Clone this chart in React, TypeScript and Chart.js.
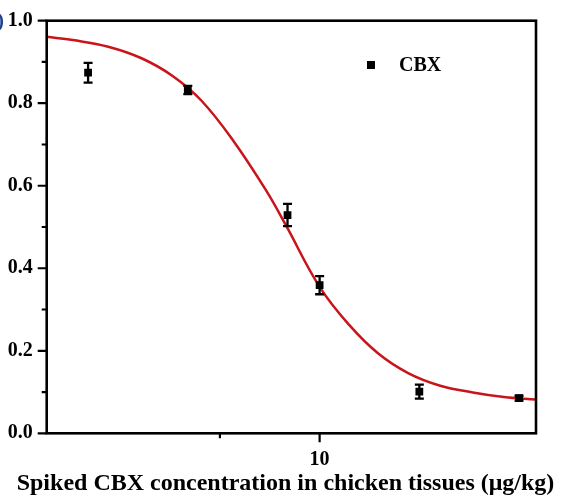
import React, { useEffect, useRef } from "react";
import { Chart, registerables } from "chart.js";

Chart.register(...registerables);

// ---- data ----
const concX = [2, 4, 8, 10, 20, 40];
const cbxY = [0.874, 0.832, 0.529, 0.359, 0.101, 0.085];
const cbxErr = [0.024, 0.01, 0.027, 0.022, 0.017, 0.006];

const fitX = [1.5, 1.8, 2.3, 2.9, 3.6, 4.4, 5.5, 6.9, 7.9, 10, 12.3, 15, 18.5, 23, 29, 36, 45];
const fitY = [0.961, 0.953, 0.937, 0.909, 0.866, 0.806, 0.708, 0.588, 0.505, 0.355, 0.262, 0.194, 0.146, 0.116, 0.099, 0.088, 0.082];

const yMajor = [0, 0.2, 0.4, 0.6, 0.8, 1.0];
const yMinor = [0.1, 0.3, 0.5, 0.7, 0.9];
const xMajor = [10];
const xMinor = [5];
const xRange = [1.5, 45];
const yRange = [0, 1.0];

const seriesName = "CBX";
const xTitle = "Spiked CBX concentration in chicken tissues (\u03bcg/kg)";
const panelTag = "(b)";

const FONT = "'Liberation Serif', 'Times New Roman', serif";

const decorPlugin = {
  id: "decor",
  afterDatasetsDraw(chart: any) {
    const { ctx, scales } = chart;
    const xs = scales.x;
    const ys = scales.y;
    ctx.save();
    // error bars
    ctx.strokeStyle = "#000";
    ctx.lineWidth = 2.3;
    concX.forEach((xv, i) => {
      const px = xs.getPixelForValue(xv);
      const top = ys.getPixelForValue(cbxY[i] + cbxErr[i]);
      const bot = ys.getPixelForValue(cbxY[i] - cbxErr[i]);
      ctx.beginPath();
      ctx.moveTo(px, top);
      ctx.lineTo(px, bot);
      ctx.moveTo(px - 4.5, top);
      ctx.lineTo(px + 4.5, top);
      ctx.moveTo(px - 4.5, bot);
      ctx.lineTo(px + 4.5, bot);
      ctx.stroke();
    });
    ctx.restore();
  },
  afterDraw(chart: any) {
    const { ctx, chartArea, scales } = chart;
    const xs = scales.x;
    const ys = scales.y;
    const { left, right, top, bottom } = chartArea;
    ctx.save();
    // frame
    ctx.strokeStyle = "#000";
    ctx.lineWidth = 2.6;
    ctx.strokeRect(left, top, right - left, bottom - top);
    // ticks
    ctx.lineWidth = 2.2;
    ctx.beginPath();
    yMajor.forEach((v) => {
      const py = ys.getPixelForValue(v);
      ctx.moveTo(left - 9, py);
      ctx.lineTo(left, py);
    });
    yMinor.forEach((v) => {
      const py = ys.getPixelForValue(v);
      ctx.moveTo(left - 5, py);
      ctx.lineTo(left, py);
    });
    xMajor.forEach((v) => {
      const px = xs.getPixelForValue(v);
      ctx.moveTo(px, bottom);
      ctx.lineTo(px, bottom + 9);
    });
    xMinor.forEach((v) => {
      const px = xs.getPixelForValue(v);
      ctx.moveTo(px, bottom);
      ctx.lineTo(px, bottom + 5);
    });
    ctx.stroke();

    // legend
    ctx.fillStyle = "#000";
    ctx.fillRect(367, 61, 8, 8);
    ctx.font = `bold 20px ${FONT}`;
    ctx.textBaseline = "middle";
    ctx.textAlign = "left";
    ctx.fillText(seriesName, 399, 66);

    // x title
    ctx.font = `bold 24px ${FONT}`;
    ctx.textAlign = "center";
    ctx.textBaseline = "alphabetic";
    ctx.fillText(xTitle, 285.5, 490);

    // cropped panel tag
    ctx.fillStyle = "#1f3f8f";
    ctx.font = `bold 20px ${FONT}`;
    ctx.textAlign = "right";
    ctx.textBaseline = "middle";
    ctx.fillText(panelTag, 4, 22);
    ctx.restore();
  },
};

export default function App() {
  const ref = useRef<HTMLCanvasElement | null>(null);
  useEffect(() => {
    if (!ref.current) return;
    const chart = new Chart(ref.current, {
      type: "scatter",
      data: {
        datasets: [
          {
            type: "line",
            label: "fit",
            data: fitX.map((x, i) => ({ x, y: fitY[i] })),
            borderColor: "#c8141a",
            borderWidth: 2.5,
            pointRadius: 0,
            fill: false,
            tension: 0.4,
            order: 2,
          } as any,
          {
            label: seriesName,
            data: concX.map((x, i) => ({ x, y: cbxY[i] })),
            backgroundColor: "#000",
            borderColor: "#000",
            pointStyle: "rect",
            pointRadius: 5.5,
            borderWidth: 0,
            order: 1,
          },
        ],
      },
      options: {
        responsive: false,
        animation: false,
        layout: { padding: { top: 20.7, right: 32, left: 0, bottom: 0 } },
        plugins: { legend: { display: false }, tooltip: { enabled: false } },
        scales: {
          x: {
            type: "logarithmic",
            min: xRange[0],
            max: xRange[1],
            grid: { display: false },
            border: { display: false },
            afterBuildTicks: (s: any) => {
              s.ticks = xMajor.map((v) => ({ value: v }));
            },
            afterFit: (s: any) => {
              s.height = 502 - 433.3;
            },
            ticks: {
              autoSkip: false,
              maxRotation: 0,
              padding: 7,
              color: "#000",
              font: { family: FONT, weight: "bold", size: 20 },
              callback: (v: any) => String(v),
            },
          },
          y: {
            min: yRange[0],
            max: yRange[1],
            grid: { display: false },
            border: { display: false },
            afterBuildTicks: (s: any) => {
              s.ticks = yMajor.map((v) => ({ value: v }));
            },
            afterFit: (s: any) => {
              s.width = 46.7;
            },
            ticks: {
              autoSkip: false,
              padding: 6,
              color: "#000",
              font: { family: FONT, weight: "bold", size: 20 },
              callback: (v: any) => Number(v).toFixed(1),
            },
          },
        },
      },
      plugins: [decorPlugin],
    });
    return () => chart.destroy();
  }, []);
  return (
    <div style={{ position: "absolute", left: 0, top: 0, width: 568, height: 502, background: "#fff" }}>
      <canvas ref={ref} width={568} height={502} style={{ display: "block" }} />
    </div>
  );
}
